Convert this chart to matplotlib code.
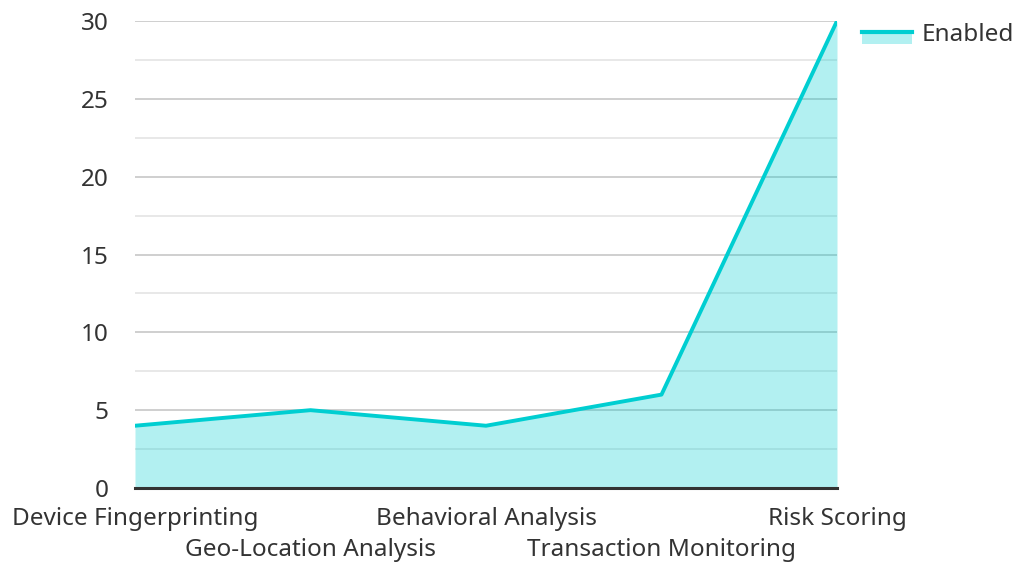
import matplotlib.pyplot as plt
from matplotlib.lines import Line2D
from matplotlib.patches import Rectangle
from matplotlib.legend_handler import HandlerBase
from matplotlib.ticker import MultipleLocator

plt.rcParams['font.family'] = ['Noto Sans', 'DejaVu Sans']

features = ['Device Fingerprinting', 'Geo-Location Analysis', 'Behavioral Analysis',
            'Transaction Monitoring', 'Risk Scoring']
enabled = [4, 5, 4, 6, 30]

line_color = '#00CED1'
text_color = '#333333'
fsize = 17.5


class AreaHandler(HandlerBase):
    # line on top, translucent fill below it (like the area legend key)
    def create_artists(self, legend, orig_handle, xdescent, ydescent, width, height, fontsize, trans):
        ymid = height * 0.55 - ydescent
        rect = Rectangle((-xdescent, ymid - height * 0.75), width, height * 0.75,
                         facecolor=line_color, alpha=0.3, edgecolor='none', transform=trans)
        line = Line2D([-xdescent, -xdescent + width], [ymid, ymid], color=line_color, lw=3,
                      transform=trans)
        return [rect, line]


fig = plt.figure(figsize=(10.18, 5.63), dpi=100)
ax = fig.add_axes([135 / 1018, 1 - 488 / 563, (837 - 135) / 1018, (488 - 21) / 563])

x = list(range(len(features)))
ax.fill_between(x, enabled, 0, color=line_color, alpha=0.3, lw=0, zorder=3)
ax.plot(x, enabled, color=line_color, lw=2.8, zorder=4)

ax.set_xlim(0, len(features) - 1)
ax.set_ylim(0, 30)
ax.yaxis.set_major_locator(MultipleLocator(5))
ax.yaxis.set_minor_locator(MultipleLocator(2.5))
ax.set_axisbelow(True)
ax.grid(which='major', axis='y', color='#cccccc', lw=1.3)
ax.grid(which='minor', axis='y', color='#e6e6e6', lw=1.3)

for s in ['top', 'right', 'left']:
    ax.spines[s].set_visible(False)
ax.spines['bottom'].set_color(text_color)
ax.spines['bottom'].set_linewidth(2.2)
ax.spines['bottom'].set_zorder(5)

ax.set_xticks(x)
ax.set_xticklabels(features, fontsize=fsize, color=text_color)
ax.tick_params(axis='x', length=0, pad=13.5)
ax.tick_params(axis='y', which='both', length=0, pad=19, labelsize=fsize, labelcolor=text_color)
# stagger every other category label onto a second row
for tick in ax.xaxis.get_major_ticks()[1::2]:
    tick.set_pad(36)

leg = fig.legend([object()], ['Enabled'], handler_map={object: AreaHandler()},
                 loc='upper left', bbox_to_anchor=(862 / 1018, 1 - 23 / 563),
                 frameon=False, fontsize=fsize, handlelength=2.05, handletextpad=0.4,
                 borderpad=0, borderaxespad=0, labelcolor=text_color)

fig.savefig('out.png', dpi=100)
